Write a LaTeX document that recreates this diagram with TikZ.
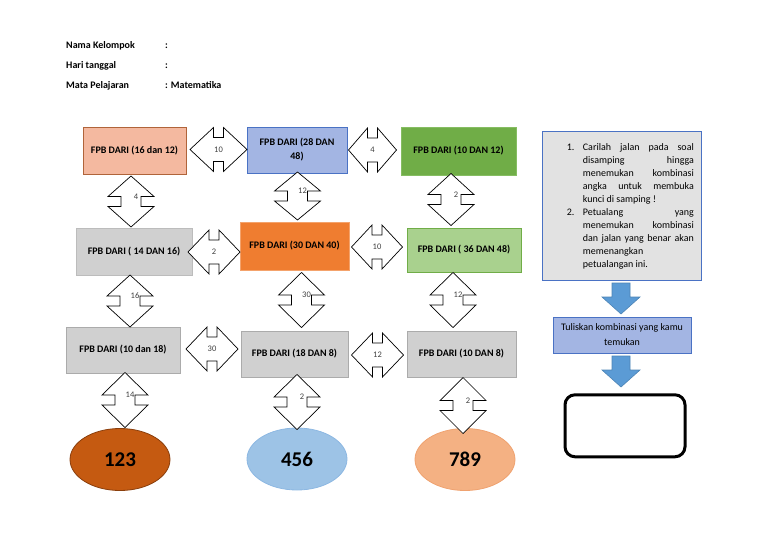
\documentclass[tikz,border=0pt]{standalone}
\usepackage{fontspec}
\setmainfont{Carlito}
\usepackage{xcolor}
\usepackage{tikz}
\usetikzlibrary{shapes.geometric}
\definecolor{salmonfill}{HTML}{F4B9A0}
\definecolor{salmonline}{HTML}{B0643A}
\definecolor{bluefill}{HTML}{A3B5E3}
\definecolor{blueline}{HTML}{4A72C4}
\definecolor{greenfill}{HTML}{70AD47}
\definecolor{greenline}{HTML}{86BD62}
\definecolor{lightgreen}{HTML}{A9D18E}
\definecolor{orangefill}{HTML}{EF7D30}
\definecolor{orangeline}{HTML}{F4A36C}
\definecolor{grayfill}{HTML}{D0D0D0}
\definecolor{grayline}{HTML}{ABABAB}
\definecolor{rustfill}{HTML}{C55A11}
\definecolor{rustline}{HTML}{8A3E0C}
\definecolor{skyfill}{HTML}{9DC3E6}
\definecolor{skyline}{HTML}{8DB8E2}
\definecolor{peachfill}{HTML}{F4B183}
\definecolor{peachline}{HTML}{EFA270}
\definecolor{notefill}{HTML}{E2E2E2}
\definecolor{arrowblue}{HTML}{5B9BD5}
\definecolor{labelgray}{HTML}{404040}
\newcommand{\jline}[1]{\makebox[111pt][s]{#1}}
% double arrows: name, centre x, centre y, length, label
\newcommand{\vlink}[5]{%
  \draw[linkshape] (#2,#3) ++(0,{-#4/2}) -- ++(-23,{#4/2-5}) -- ++(13,0) -- ++(0,10) -- ++(-13,0)
    -- ++(23,{#4/2-5}) -- ++(23,{-#4/2+5}) -- ++(-13,0) -- ++(0,-10) -- ++(13,0) -- cycle;
  \node[linklabel] (#1) at ({#2+5},{#3-5}) {#5};}
\newcommand{\hlink}[5]{%
  \draw[linkshape] (#2,#3) ++({-#4/2},0) -- ++({#4/2-5},-22) -- ++(0,10) -- ++(10,0) -- ++(0,-10)
    -- ++({#4/2-5},22) -- ++({-#4/2+5},22) -- ++(0,-10) -- ++(-10,0) -- ++(0,10) -- cycle;
  \node[linklabel] (#1) at (#2,#3) {#5};}
\tikzset{
  fpbbox/.style={draw, line width=0.8pt, align=center, inner sep=0pt, font=\fontsize{10}{14}\selectfont\bfseries},
  keynode/.style={ellipse, draw, line width=0.8pt, minimum width=100pt, minimum height=62pt, inner sep=0pt, font=\fontsize{21}{24}\selectfont\bfseries},
  linkshape/.style={draw=black, fill=white, line width=0.7pt, line join=miter},
  linklabel/.style={inner sep=0pt, font=\fontsize{8.5}{10}\selectfont, text=labelgray},
  headtext/.style={anchor=base west, inner sep=0pt, font=\fontsize{10}{12}\selectfont\bfseries},
  downarrow/.style={fill=arrowblue, draw=arrowblue!85!black, line width=0.6pt}
}

\begin{document}
\begin{tikzpicture}[x=1pt, y=-1pt]
  \useasboundingbox (0,0) rectangle (768,543);
  \node[headtext] (nama) at (66,48.5) {Nama Kelompok};
  \node[headtext] (namaisi) at (165,48.5) {:};
  \node[headtext] (hari) at (66,68.5) {Hari tanggal};
  \node[headtext] (hariisi) at (165,68.5) {:};
  \node[headtext] (mapel) at (66,88.5) {Mata Pelajaran};
  \node[headtext] (mapelisi) at (165,88.5) {: Matematika};

  % FPB boxes
  \node[fpbbox, fill=salmonfill, draw=salmonline, minimum width=103pt, minimum height=47pt] (b1612) at (134.5,150.5) {FPB DARI (16 dan 12)};
  \node[fpbbox, fill=bluefill, draw=blueline, minimum width=100pt, minimum height=46pt] (b2848) at (297,150) {FPB DARI (28 DAN\\48)};
  \node[fpbbox, fill=greenfill, draw=greenline, minimum width=115pt, minimum height=48pt] (b1012) at (458.5,151) {FPB DARI (10 DAN 12)};
  \node[fpbbox, fill=grayfill, draw=grayline!80, minimum width=116pt, minimum height=47pt] (b1416) at (134,251.5) {FPB DARI ( 14 DAN 16)};
  \node[fpbbox, fill=orangefill, draw=orangeline, minimum width=109pt, minimum height=48pt] (b3040) at (294.5,246) {FPB DARI (30 DAN 40)};
  \node[fpbbox, fill=lightgreen, draw=greenfill, minimum width=114pt, minimum height=44pt] (b3648) at (464,250) {FPB DARI ( 36 DAN 48)};
  \node[fpbbox, fill=grayfill, draw=grayline, minimum width=114pt, minimum height=46pt] (b1018) at (123,350) {FPB DARI (10 dan 18)};
  \node[fpbbox, fill=grayfill, draw=grayline, minimum width=107pt, minimum height=46pt] (b188) at (294.5,354) {FPB DARI (18 DAN 8)};
  \node[fpbbox, fill=grayfill, draw=grayline, minimum width=109pt, minimum height=46pt] (b108) at (461.5,354) {FPB DARI (10 DAN 8)};

  % answers
  \node[keynode, fill=rustfill, draw=rustline] (k123) at (120,459.5) {123};
  \node[keynode, fill=skyfill, draw=skyline] (k456) at (297,459) {456};
  \node[keynode, fill=peachfill, draw=peachline] (k789) at (465,459.5) {789};

  % double arrows
  \hlink{h1}{218.5}{149.5}{57}{10}
  \hlink{h2}{372.5}{150}{48}{4}
  \hlink{h3}{214}{252}{52}{2}
  \hlink{h4}{377}{247}{51}{10}
  \hlink{h5}{212}{349}{52}{30}
  \hlink{h6}{377.5}{355}{52}{12}
  \vlink{v1}{131}{201.5}{51}{4}
  \vlink{v2}{297.5}{196}{48}{12}
  \vlink{v3}{451}{199.5}{52}{2}
  \vlink{v4}{130}{301}{52}{16}
  \vlink{v5}{301.5}{300}{55}{30}
  \vlink{v6}{453}{300}{55}{12}
  \vlink{v7}{125}{400}{55}{14}
  \vlink{v8}{297}{402}{55}{2}
  \vlink{v9}{463}{405.5}{56}{2}

  % right column
  \node[draw=blueline, fill=notefill, line width=0.8pt, minimum width=159pt, minimum height=149pt] (petunjuk) at (622,205.5) {};
  \node[anchor=north west, inner sep=0pt, font=\fontsize{10}{13}\selectfont] (isi) at (566.7,141.4) {%
    \begin{tabular}{@{}l@{\hspace{8.4pt}}l@{}}
      1. & \jline{Carilah jalan pada soal}\\
         & \jline{disamping hingga}\\
         & \jline{menemukan kombinasi}\\
         & \jline{angka untuk membuka}\\
         & kunci di samping !\\
      2. & \jline{Petualang yang}\\
         & \jline{menemukan kombinasi}\\
         & \jline{dan jalan yang benar akan}\\
         & memenangkan\\
         & petualangan ini.
    \end{tabular}};
  \node[draw=blueline, fill=bluefill, line width=0.8pt, minimum width=138pt, minimum height=36pt, align=center, font=\fontsize{10}{15}\selectfont] (tulis) at (622,335) {Tuliskan kombinasi yang kamu\\temukan};
  \node[draw=black, line width=3pt, rounded corners=10pt, minimum width=120pt, minimum height=62pt] (jawaban) at (625,425.8) {};
  \foreach \t in {283,356}
    \draw[downarrow] (612,\t) -- (630,\t) -- (630,\t+14) -- (640,\t+14) -- (621,\t+31) -- (602,\t+14) -- (612,\t+14) -- cycle;
\end{tikzpicture}
\end{document}
